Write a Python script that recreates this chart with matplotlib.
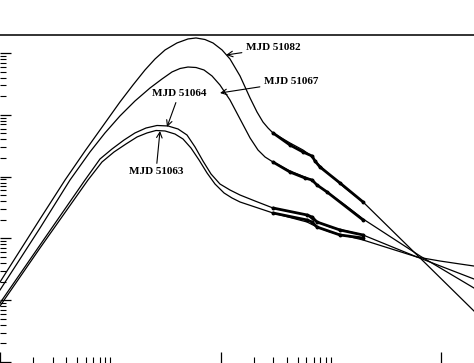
import numpy as np
import matplotlib
matplotlib.use("Agg")
import matplotlib.pyplot as plt
from matplotlib.ticker import FixedLocator, NullFormatter

# ---- data (log10 frequency [Hz], log10 flux) ----
# MJD 51082 model spectrum
a_lx = [8.000, 8.363, 8.590, 8.771, 8.907, 9.088, 9.206, 9.315, 9.406, 9.497,
        9.605, 9.705, 9.778, 9.859, 9.932, 10.014, 10.086, 10.177, 10.268,
        10.331, 10.385, 10.431, 10.476, 10.630, 10.748, 10.812, 10.875, 10.993,
        11.129, 11.293, 11.810, 12.299]
a_ly = [-0.706, 0.314, 0.945, 1.414, 1.754, 2.207, 2.482, 2.725, 2.903, 3.049,
        3.162, 3.227, 3.243, 3.218, 3.162, 3.049, 2.903, 2.628, 2.272,
        2.045, 1.883, 1.786, 1.706, 1.544, 1.430, 1.350, 1.220, 1.026,
        0.816, 0.589, -0.317, -1.175]
# MJD 51067 model spectrum
b_lx = [8.000, 8.363, 8.635, 8.816, 8.952, 9.088, 9.224, 9.361, 9.469, 9.560,
        9.633, 9.705, 9.778, 9.850, 9.923, 9.995, 10.086, 10.177, 10.268,
        10.340, 10.404, 10.476, 10.630, 10.766, 10.830, 10.875, 10.966, 11.129,
        11.293, 11.810, 12.299]
b_ly = [-0.835, 0.168, 0.945, 1.398, 1.706, 1.981, 2.223, 2.434, 2.579, 2.693,
        2.749, 2.773, 2.765, 2.725, 2.628, 2.482, 2.239, 1.932, 1.625,
        1.430, 1.317, 1.236, 1.091, 0.993, 0.945, 0.864, 0.751, 0.540,
        0.314, -0.285, -0.803]
# MJD 51064 model spectrum
c_lx = [8.000, 8.363, 8.771, 8.907, 9.016, 9.125, 9.224, 9.324, 9.424, 9.524,
        9.615, 9.696, 9.769, 9.841, 9.914, 9.995, 10.086, 10.177, 10.313,
        10.476, 10.785, 10.839, 10.993, 11.293, 11.782, 12.299]
c_ly = [-1.045, -0.107, 0.945, 1.285, 1.447, 1.592, 1.706, 1.786, 1.827, 1.819,
        1.770, 1.673, 1.479, 1.252, 1.042, 0.880, 0.783, 0.702, 0.605,
        0.492, 0.379, 0.298, 0.184, 0.055, -0.301, -0.657]
# MJD 51063 model spectrum
d_lx = [8.000, 8.363, 8.798, 8.925, 9.034, 9.143, 9.243, 9.333, 9.415, 9.497,
        9.587, 9.660, 9.732, 9.805, 9.878, 9.950, 10.032, 10.104, 10.177,
        10.313, 10.476, 10.785, 10.875, 10.993, 11.293, 11.782, 11.991,
        12.172, 12.299]
d_ly = [-1.094, -0.155, 0.945, 1.236, 1.398, 1.528, 1.641, 1.706, 1.746, 1.738,
        1.689, 1.608, 1.463, 1.269, 1.058, 0.880, 0.735, 0.654, 0.589,
        0.508, 0.411, 0.265, 0.184, 0.104, -0.026, -0.301, -0.366,
        -0.414, -0.447]

# measured (thick) segments
a_dx = [10.476, 10.630, 10.748, 10.830, 10.857, 10.902, 11.084, 11.293]
a_dy = [1.706, 1.511, 1.398, 1.333, 1.252, 1.155, 0.896, 0.589]
b_dx = [10.476, 10.630, 10.766, 10.830, 10.875, 10.966, 11.293]
b_dy = [1.236, 1.074, 0.977, 0.945, 0.864, 0.751, 0.298]
c_dx = [10.476, 10.785, 10.830, 10.875, 11.084, 11.293]
c_dy = [0.492, 0.379, 0.346, 0.265, 0.136, 0.055]
d_dx = [10.476, 10.785, 10.830, 10.875, 11.084, 11.293]
d_dy = [0.411, 0.298, 0.265, 0.184, 0.055, 0.006]

labels = ["MJD 51082", "MJD 51067", "MJD 51064", "MJD 51063"]

# ---- figure ----
fig = plt.figure(figsize=(4.74, 3.63), dpi=100)
ax = fig.add_axes([0.0, 0.0, 1.0, 1 - 35 / 363])

models = [(a_lx, a_ly), (b_lx, b_ly), (c_lx, c_ly), (d_lx, d_ly)]
meas = [(a_dx, a_dy), (b_dx, b_dy), (c_dx, c_dy), (d_dx, d_dy)]
for lx, ly in models:
    ax.plot(10 ** np.array(lx), 10 ** np.array(ly), color="black", lw=0.9,
            solid_joinstyle="round")
for lx, ly in meas:
    ax.plot(10 ** np.array(lx), 10 ** np.array(ly), color="black", lw=2.0,
            marker="o", ms=1.8, solid_capstyle="round", solid_joinstyle="round")

ax.set_xscale("log")
ax.set_yscale("log")
ax.set_xlim(10 ** 8.0, 10 ** 12.299)
ax.set_ylim(10 ** -2.016, 10 ** 3.291)

ax.xaxis.set_major_locator(FixedLocator([1e8, 1e10, 1e12]))
xminor = [k * 1e8 for k in range(2, 11)] + [k * 1e10 for k in range(2, 11)] + [2e12]
ax.xaxis.set_minor_locator(FixedLocator(xminor))
ax.xaxis.set_major_formatter(NullFormatter())
ax.xaxis.set_minor_formatter(NullFormatter())
ax.yaxis.set_major_formatter(NullFormatter())
ax.yaxis.set_minor_formatter(NullFormatter())

ax.tick_params(which="both", direction="in", top=False, right=False, color="black")
ax.tick_params(which="major", length=8, width=0.9)
ax.tick_params(which="minor", length=4.5, width=0.8)

for s in ["left", "bottom", "right"]:
    ax.spines[s].set_visible(False)
ax.spines["top"].set_linewidth(1.3)
ax.spines["top"].set_color("#222222")

font = dict(family="Liberation Serif", weight="bold", size=8)
arrow = dict(arrowstyle="->", color="black", lw=0.8, shrinkA=1, shrinkB=0,
             mutation_scale=10)
ax.annotate(labels[0], xy=(226 / 474, (363 - 55) / 328), xycoords="axes fraction",
            xytext=(246 / 474, (363 - 48) / 328), textcoords="axes fraction",
            ha="left", va="center", arrowprops=arrow, **font)
ax.annotate(labels[1], xy=(220 / 474, (363 - 93) / 328), xycoords="axes fraction",
            xytext=(264 / 474, (363 - 82) / 328), textcoords="axes fraction",
            ha="left", va="center", arrowprops=arrow, **font)
ax.annotate(labels[2], xy=(167 / 474, (363 - 127) / 328), xycoords="axes fraction",
            xytext=(179 / 474, (363 - 94) / 328), textcoords="axes fraction",
            ha="center", va="center", arrowprops=arrow, **font)
ax.annotate(labels[3], xy=(160 / 474, (363 - 131) / 328), xycoords="axes fraction",
            xytext=(156 / 474, (363 - 172) / 328), textcoords="axes fraction",
            ha="center", va="center", arrowprops=arrow, **font)

fig.savefig("out.png", dpi=100)
